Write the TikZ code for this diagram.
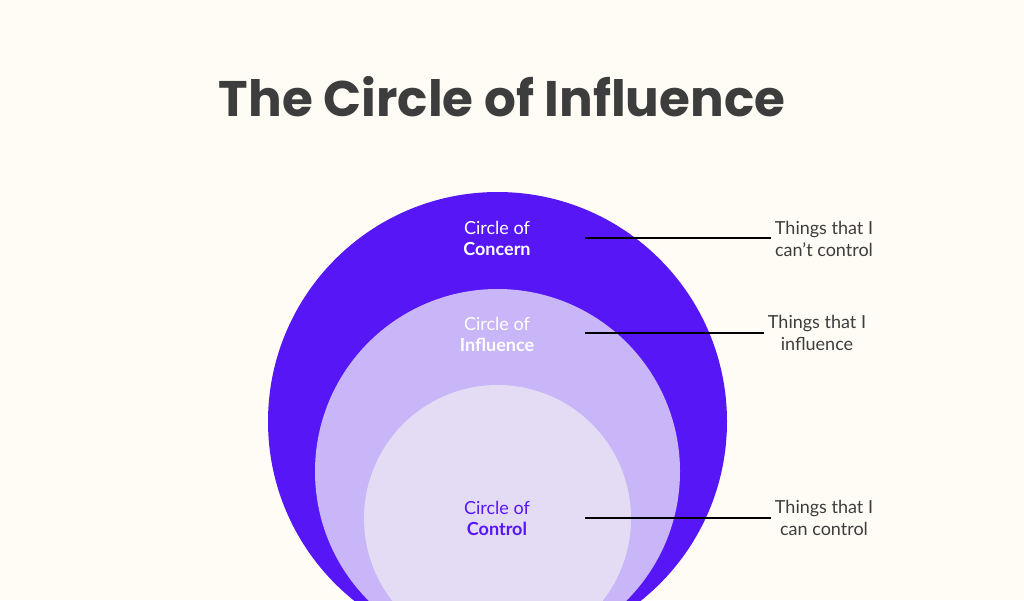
\documentclass[tikz,border=0pt]{standalone}
\usepackage{fontspec}
\setmainfont{Lato}
\newfontfamily\titlefont{Poppins}
\definecolor{bg}{HTML}{FFFCF5}
\definecolor{cOuter}{HTML}{5616F5}
\definecolor{cMid}{HTML}{C8B6F9}
\definecolor{cIn}{HTML}{E4DCF5}
\definecolor{ink}{HTML}{3D3D3D}
\begin{document}
\begin{tikzpicture}[x=1pt,y=-1pt,
  lbl/.style={align=center,font=\fontsize{18}{21}\selectfont},
  note/.style={align=center,text=ink,font=\fontsize{18}{22}\selectfont},
  lead/.style={line width=1.3pt,black}]
\fill[bg] (0,0) rectangle (1024,600);
\useasboundingbox (0,0) rectangle (1024,600);
\clip (0,0) rectangle (1024,600);
\node[text=ink,font=\titlefont\bfseries\fontsize{50}{60}\selectfont] (title) at (502,97) {The Circle of Influence};
\fill[cOuter] (497.5,421.5) circle (229.5);
\fill[cMid] (497.5,471.5) circle (182.5);
\fill[cIn] (497.5,518.5) circle (133.5);
\node[lbl,text=white] (l1) at (497,238) {Circle of\\\textbf{Concern}};
\node[lbl,text=white] (l2) at (497,334) {Circle of\\\textbf{Influence}};
\node[lbl,text=cOuter] (l3) at (497,518) {Circle of\\\textbf{Control}};
\node[note] (n1) at (824,239) {Things that I\\can’t control};
\node[note] (n2) at (817,333) {Things that I\\influence};
\node[note] (n3) at (824,518) {Things that I\\can control};
\coordinate (a1) at (585,238); \coordinate (a2) at (585,333); \coordinate (a3) at (585,518);
\draw[lead] (a1) -- (n1.west |- a1);
\draw[lead] (a2) -- (n2.west |- a2);
\draw[lead] (a3) -- (n3.west |- a3);
\end{tikzpicture}
\end{document}
